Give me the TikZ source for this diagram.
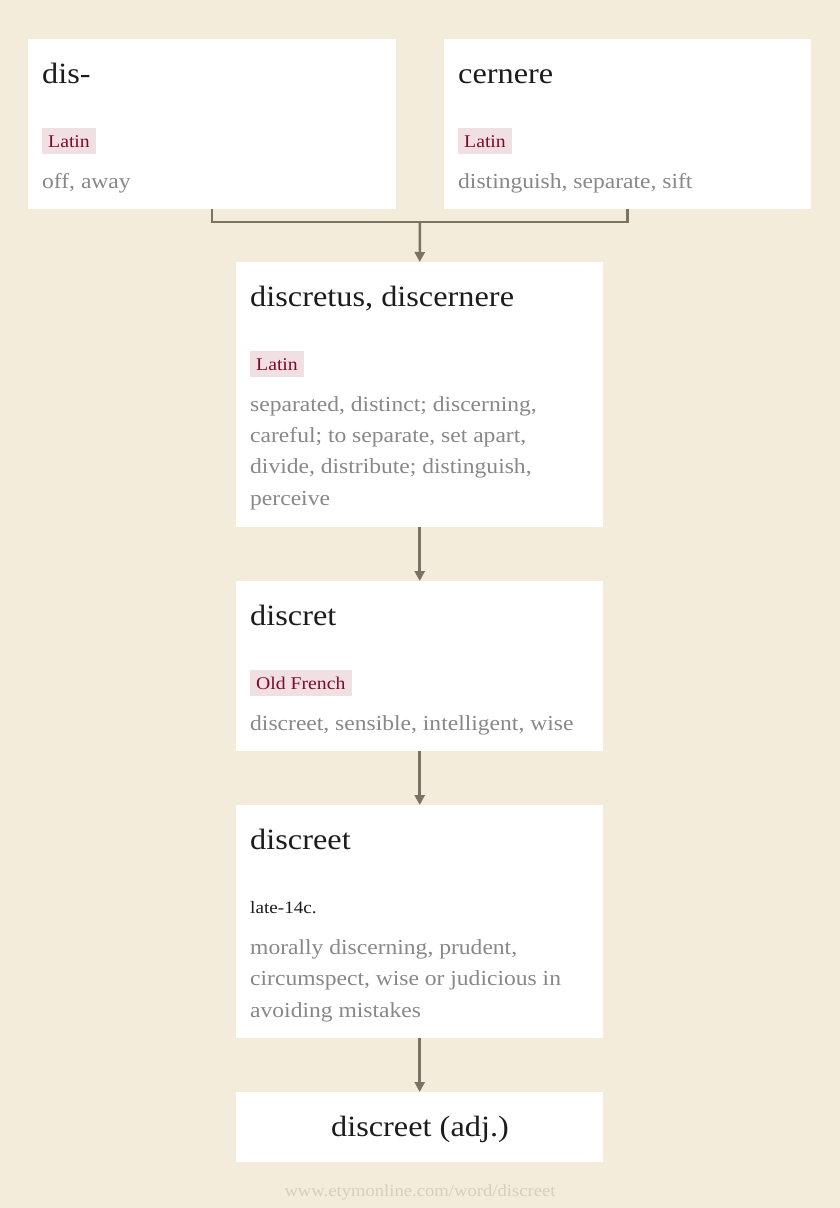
\documentclass[tikz,border=0pt]{standalone}
\usepackage{fontspec}
\setmainfont{Liberation Serif}[FakeStretch=1.1]
\usetikzlibrary{arrows.meta}
\definecolor{bgc}{RGB}{243,236,218}
\definecolor{titlec}{RGB}{28,28,28}
\definecolor{glossc}{RGB}{136,136,136}
\definecolor{tagbg}{RGB}{241,224,226}
\definecolor{tagfg}{RGB}{128,10,40}
\definecolor{linec}{RGB}{122,114,98}
\definecolor{footc}{RGB}{214,206,190}
\tikzset{
  box/.style={fill=white,draw=none,anchor=north west,inner sep=0pt},
  ttl/.style={anchor=base west,inner sep=0pt,text=titlec,font=\fontsize{29.5}{32}\selectfont},
  gls/.style={anchor=base west,inner sep=0pt,text=glossc,font=\fontsize{21.5}{24}\selectfont},
  tag/.style={anchor=base west,fill=tagbg,text=tagfg,inner xsep=6bp,inner ysep=0pt,text height=19bp,text depth=7bp,font=\fontsize{18}{20}\selectfont},
  dat/.style={anchor=base west,inner sep=0pt,text=titlec,font=\fontsize{17.5}{20}\selectfont},
  conn/.style={draw=linec,line width=2.5bp},
  arr/.style={conn,-{Triangle[length=10bp,width=10bp]}}
}
\begin{document}
\begin{tikzpicture}[x=1bp,y=-1bp]
\fill[bgc] (0,0) rectangle (840,1208);
\useasboundingbox (0,0) rectangle (840,1208);
% boxes
\node[box,minimum width=368bp,minimum height=170bp] (dis) at (28,39) {};
\node[box,minimum width=367bp,minimum height=170bp] (cern) at (444,39) {};
\node[box,minimum width=367bp,minimum height=265bp] (dtus) at (236,262) {};
\node[box,minimum width=367bp,minimum height=170bp] (dret) at (236,581) {};
\node[box,minimum width=367bp,minimum height=233bp] (dreet) at (236,805) {};
\node[box,minimum width=367bp,minimum height=70bp] (adj) at (236,1092) {};
% dis-
\node[ttl] (t1) at (42,83) {dis-};
\node[tag] (g1) at (42,147) {Latin};
\node[gls] (l1) at (42,188) {off, away};
% cernere
\node[ttl] (t2) at (458,83) {cernere};
\node[tag] (g2) at (458,147) {Latin};
\node[gls] (l2) at (458,188) {distinguish, separate, sift};
% discretus
\node[ttl] (t3) at (250,306) {discretus, discernere};
\node[tag] (g3) at (250,370) {Latin};
\node[gls] (l3a) at (250,411) {separated, distinct; discerning,};
\node[gls] (l3b) at (250,442) {careful; to separate, set apart,};
\node[gls] (l3c) at (250,473) {divide, distribute; distinguish,};
\node[gls] (l3d) at (250,505) {perceive};
% discret
\node[ttl] (t4) at (250,625) {discret};
\node[tag] (g4) at (250,689) {Old French};
\node[gls] (l4) at (250,730) {discreet, sensible, intelligent, wise};
% discreet
\node[ttl] (t5) at (250,849) {discreet};
\node[dat] (d5) at (250,913) {late-14c.};
\node[gls] (l5a) at (250,954) {morally discerning, prudent,};
\node[gls] (l5b) at (250,985) {circumspect, wise or judicious in};
\node[gls] (l5c) at (250,1017) {avoiding mistakes};
% final
\node[anchor=base,inner sep=0pt,text=titlec,font=\fontsize{29.5}{32}\selectfont] (t6) at (420,1136) {discreet (adj.)};
% footer
\node[anchor=base,inner sep=0pt,text=footc,font=\fontsize{17}{18}\selectfont] (foot) at (420,1196) {www.etymonline.com/word/discreet};
% connectors
\coordinate (j) at (420,222);
\draw[conn] (dis.south) |- (j) -| (cern.south);
\draw[arr] (j) -- (dtus.north);
\draw[arr] (dtus.south) -- (dret.north);
\draw[arr] (dret.south) -- (dreet.north);
\draw[arr] (dreet.south) -- (adj.north);
\end{tikzpicture}
\end{document}
